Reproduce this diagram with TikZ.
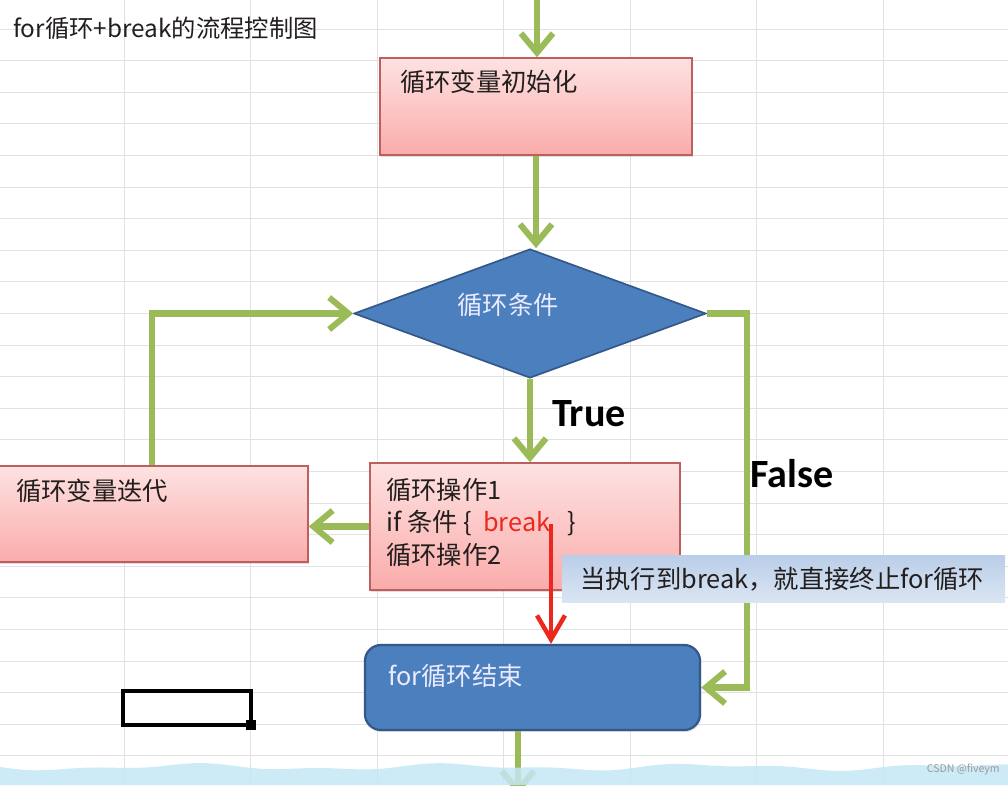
\documentclass[tikz,border=0pt]{standalone}
\usepackage{fontspec}
\setmainfont{Noto Sans CJK SC}
\newfontfamily\calfont{Carlito}
\usepackage{tikz}
\usetikzlibrary{arrows.meta, positioning, calc, shapes.geometric, shadows}
\definecolor{flowgreen}{RGB}{155,187,89}
\definecolor{pinkedge}{RGB}{190,95,95}
\definecolor{pinktop}{RGB}{253,226,226}
\definecolor{pinkbot}{RGB}{250,172,170}
\definecolor{boxblue}{RGB}{76,127,189}
\definecolor{blueedge}{RGB}{52,88,135}
\definecolor{notetop}{RGB}{186,206,232}
\definecolor{notebot}{RGB}{218,229,243}
\definecolor{gridgray}{RGB}{225,225,225}
\definecolor{wavecyan}{RGB}{196,231,245}
\definecolor{breakred}{RGB}{236,40,30}
\definecolor{inktext}{RGB}{35,30,30}

\begin{document}
\begin{tikzpicture}[x=0.025cm, y=-0.025cm,
  gridline/.style={gridgray, line width=0.7pt},
  flow/.style={flowgreen, line width=4.3pt, -{Straight Barb[length=4.8mm, width=8mm]}},
  stopflow/.style={breakred, line width=3.2pt, -{Straight Barb[length=6mm, width=7mm]}},
  pinkbox/.style={rectangle, draw=pinkedge, line width=1pt, top color=pinktop, bottom color=pinkbot,
    drop shadow={opacity=0.25, shadow xshift=1pt, shadow yshift=-1.5pt}},
  bluebox/.style={draw=blueedge, fill=boxblue, line width=1.6pt},
  boxtxt/.style={inner sep=0pt, anchor=west, text=inktext, font=\fontsize{18pt}{22pt}\selectfont},
  lighttxt/.style={boxtxt, text=white!92!blue},
  tftxt/.style={inner sep=0pt, font=\calfont\bfseries\fontsize{28.5pt}{30pt}\selectfont}]
  \useasboundingbox (0,0) rectangle (1008,785);
  \clip (0,0) rectangle (1008,785);

  % sheet grid
  \foreach \gx in {124,250.5,...,900}
    \draw[gridline] (\gx,0) -- (\gx,785);
  \foreach \gy in {29,60.6,...,770}
    \draw[gridline] (0,\gy) -- (1008,\gy);

  \node[boxtxt, font=\fontsize{17.3pt}{20pt}\selectfont] (title) at (13,28) {for循环+break的流程控制图};

  % boxes
  \node[pinkbox, minimum width=7.8cm, minimum height=2.425cm] (init) at (536,106.5) {};
  \node[boxtxt] (inittxt) at (400,82) {循环变量初始化};
  \node[diamond, bluebox, line width=1.2pt, minimum width=8.8cm, minimum height=3.225cm] (cond) at (530,313.5) {};
  \node[lighttxt, anchor=center] (condtxt) at (508,305) {循环条件};
  \node[pinkbox, minimum width=7.75cm, minimum height=3.175cm] (body) at (525,526.5) {};
  \node[boxtxt] (op1) at (386,490) {循环操作1};
  \node[boxtxt] (ifln) at (386,523) {if 条件 \{\ \ \textcolor{breakred}{break}\ \ \ \}};
  \node[boxtxt] (op2) at (386,555) {循环操作2};
  \node[pinkbox, minimum width=7.8cm, minimum height=2.4cm] (iter) at (152,514) {};
  \node[boxtxt] (itertxt) at (16,491) {循环变量迭代};
  \node[bluebox, rounded corners=0.4cm, minimum width=8.375cm, minimum height=2.125cm,
    drop shadow={opacity=0.2, shadow xshift=1pt, shadow yshift=-1.5pt}] (done) at (532.5,687.5) {};
  \node[lighttxt] (donetxt) at (388,676) {for循环结束};

  \coordinate (entry) at (537,-5);
  \coordinate (brk) at (551,524);
  \coordinate (exit) at (518,795);

  % connectors
  \draw[flow] (entry) -- (entry |- init.north);
  \draw[flow] (init.south) -- (init.south |- cond.north);
  \draw[flow] (cond.south) -- (cond.south |- body.north);
  \draw[flow] (body.west) -- (body.west -| iter.east);
  \draw[flow] (iter.north) |- (cond.west);
  \draw[flow] (cond.east) -- ++(40,0) |- (done.east);
  \draw[flow] (exit |- done.south) -- (exit);
  \draw[stopflow] (brk) -- (brk |- done.north);

  \node[tftxt] (truelbl) at (589,414) {True};
  \node[tftxt] (falselbl) at (792,474) {False};

  % note over the false line
  \node[rectangle, top color=notetop, bottom color=notebot, minimum width=11.075cm, minimum height=1.175cm] (note) at (783.5,578.5) {};
  \node[boxtxt] (notetxt) at (580,579) {当执行到break，就直接终止for循环};

  % selected cell
  \draw[line width=3pt, black] (123,691) rectangle (251,725);
  \fill[black] (246,720) rectangle (256,730);

  % bottom band
  \fill[wavecyan, opacity=0.85] (0,785) -- plot[domain=0:1008, samples=90] (\x, {767+2.5*sin(\x*1.4)+1.5*sin(\x*3.1)}) -- (1008,785) -- cycle;
  \node[inner sep=0pt, anchor=east, text=gray!80, font=\fontsize{7.5pt}{9pt}\selectfont] (mark) at (1000,769) {CSDN @fiveym};
\end{tikzpicture}
\end{document}
